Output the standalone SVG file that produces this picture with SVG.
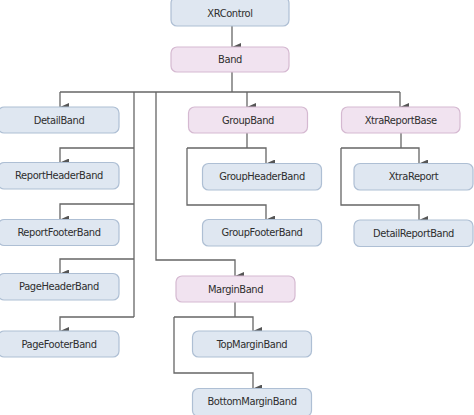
<svg xmlns="http://www.w3.org/2000/svg" width="474" height="415" viewBox="0 0 474 415">
<defs>
<marker id="ah" markerUnits="userSpaceOnUse" markerWidth="8" markerHeight="9" refX="4" refY="9" orient="auto-start-reverse" viewBox="0 0 8 9">
<path d="M0,0 L8,0 L4,9 Z" fill="#555"/>
</marker>
<style>
.b{fill:#dfe7f1;stroke:#aebfd4;stroke-width:1.2}
.p{fill:#f1e3f0;stroke:#d5b9d1;stroke-width:1.2}
text{font-family:"DejaVu Sans Condensed","DejaVu Sans",sans-serif;font-size:11px;letter-spacing:-0.4px;fill:#2e2e2e;text-anchor:middle;dominant-baseline:central}
.c path{fill:none;stroke:#666;stroke-width:1.3}
.c path.a{marker-end:url(#ah)}
</style>
</defs>
<rect width="474" height="415" fill="#fff"/>
<g class="c" id="connectors">
<path class="a" d="M232,26 V47"/>
<path d="M232,72 V92"/>
<path d="M60,92 H400"/>
<path class="a" d="M60,92 V107"/>
<path class="a" d="M247,92 V107"/>
<path class="a" d="M400,92 V107"/>
<path d="M134,92 V317"/>
<path class="a" d="M134,148 H60 V162.5"/>
<path class="a" d="M134,204 H60 V219.5"/>
<path class="a" d="M134,259 H60 V273.5"/>
<path class="a" d="M134,317 H60 V331"/>
<path class="a" d="M156,92 V260 H235 V276"/>
<path d="M247,133 V148"/>
<path class="a" d="M187,148 H266 V163.5"/>
<path class="a" d="M187,148 V205 H266 V219.5"/>
<path d="M401,133 V148"/>
<path class="a" d="M341,148 H419 V163.5"/>
<path class="a" d="M341,148 V205 H419 V220"/>
<path d="M235,302 V317"/>
<path class="a" d="M174,317 H253 V331"/>
<path class="a" d="M174,317 V373 H253 V388.5"/>
</g>
<g id="XRControl"><rect class="b" x="171" y="-3" width="118" height="29" rx="6"/><text x="230" y="13">XRControl</text></g>
<g id="Band"><rect class="p" x="171" y="47" width="118" height="25" rx="6"/><text x="230" y="59.5">Band</text></g>
<g id="DetailBand"><rect class="b" x="-2" y="107" width="121" height="26" rx="6"/><text x="59" y="120">DetailBand</text></g>
<g id="ReportHeaderBand"><rect class="b" x="-2" y="162.5" width="121" height="26.5" rx="6"/><text x="59" y="175.7">ReportHeaderBand</text></g>
<g id="ReportFooterBand"><rect class="b" x="-2" y="219.5" width="121" height="26" rx="6"/><text x="59" y="232.5">ReportFooterBand</text></g>
<g id="PageHeaderBand"><rect class="b" x="-2" y="273.5" width="121" height="26.5" rx="6"/><text x="59" y="286.7">PageHeaderBand</text></g>
<g id="PageFooterBand"><rect class="b" x="-2" y="331" width="121" height="26" rx="6"/><text x="59" y="344">PageFooterBand</text></g>
<g id="GroupBand"><rect class="p" x="188.5" y="107" width="119" height="26" rx="6"/><text x="248" y="120">GroupBand</text></g>
<g id="XtraReportBase"><rect class="p" x="341.5" y="107" width="118.5" height="26" rx="6"/><text x="400.7" y="120">XtraReportBase</text></g>
<g id="GroupHeaderBand"><rect class="b" x="202.5" y="163.5" width="119" height="26.5" rx="6"/><text x="262" y="176.7">GroupHeaderBand</text></g>
<g id="GroupFooterBand"><rect class="b" x="202.5" y="219.5" width="119" height="26.5" rx="6"/><text x="262" y="232.7">GroupFooterBand</text></g>
<g id="XtraReport"><rect class="b" x="354" y="163.5" width="119" height="26.5" rx="6"/><text x="413.5" y="176.7">XtraReport</text></g>
<g id="DetailReportBand"><rect class="b" x="354" y="220" width="119" height="26.5" rx="6"/><text x="413.5" y="233.2">DetailReportBand</text></g>
<g id="MarginBand"><rect class="p" x="176" y="276" width="119" height="26" rx="6"/><text x="235.5" y="289">MarginBand</text></g>
<g id="TopMarginBand"><rect class="b" x="192.5" y="331" width="119" height="26" rx="6"/><text x="252" y="344">TopMarginBand</text></g>
<g id="BottomMarginBand"><rect class="b" x="192.5" y="388.5" width="119" height="28" rx="6"/><text x="252" y="401.5">BottomMarginBand</text></g>
</svg>
